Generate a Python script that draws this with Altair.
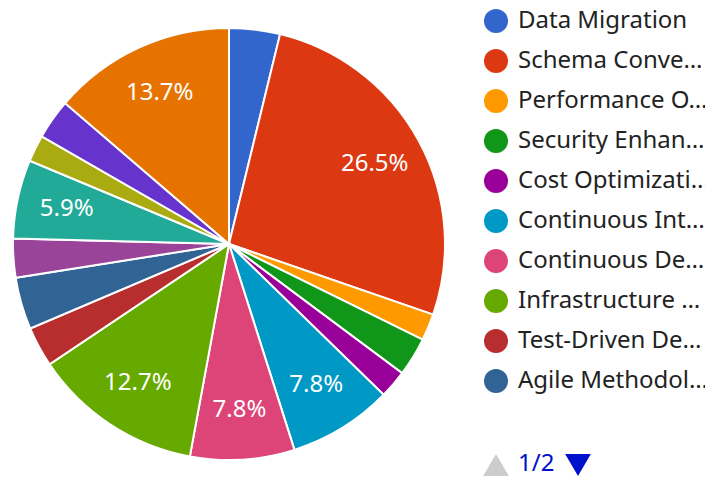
import altair as alt
import pandas as pd

categories = [
    "Data Migration", "Schema Conversion", "Performance Optimization",
    "Security Enhancement", "Cost Optimization", "Continuous Integration",
    "Continuous Deployment", "Infrastructure as Code", "Test-Driven Development",
    "Agile Methodology", "Code Review", "Monitoring and Logging",
    "Documentation", "Team Training", "Cloud Adoption",
]
values = [3.8, 26.5, 2.0, 2.9, 2.1, 7.8, 7.8, 12.7, 3.0, 3.9, 2.9, 5.9, 2.0, 3.0, 13.7]
colors = [
    "#3366cc", "#dc3912", "#ff9900", "#109618", "#990099", "#0099c6",
    "#dd4477", "#66aa00", "#b82e2e", "#316395", "#994499", "#22aa99",
    "#aaaa11", "#6633cc", "#e67300",
]
legend_page = categories[:10]
pager_text = ["1/2"]

total = sum(values)
df = pd.DataFrame({
    "category": categories,
    "value": values,
    "idx": list(range(len(categories))),
})
df["label"] = [f"{v / total * 100:.1f}%" if v / total > 0.05 else "" for v in values]

leg = pd.DataFrame({"category": legend_page, "idx": list(range(len(legend_page)))})

color_scale = alt.Scale(domain=categories, range=colors)

CX, CY, R = 221, 236, 216
FS = 24

base = alt.Chart(df).encode(
    theta=alt.Theta("value:Q", stack=True),
    order=alt.Order("idx:Q"),
    color=alt.Color("category:N", scale=color_scale, legend=None),
)

arcs = base.mark_arc(radius=R, stroke="white", strokeWidth=2).encode(
    x=alt.value(CX), y=alt.value(CY)
)

labels = base.mark_text(
    radius=166, font="Noto Sans", fontSize=FS, color="white"
).encode(
    x=alt.value(CX), y=alt.value(CY), text="label:N",
    color=alt.value("white"),
)

yscale = alt.Scale(domain=legend_page, range=[13, 373], type="point", padding=0)

leg_sym = alt.Chart(leg).mark_point(filled=True, shape="circle", size=576, opacity=1).encode(
    x=alt.value(488),
    y=alt.Y("category:N", scale=yscale, axis=None),
    color=alt.Color("category:N", scale=color_scale, legend=None),
)

leg_txt = alt.Chart(leg).mark_text(
    align="left", baseline="middle", font="Noto Sans", fontSize=FS,
    color="#222222", limit=193,
).encode(
    x=alt.value(510),
    y=alt.Y("category:N", scale=yscale, axis=None),
    text="category:N",
)

pager = pd.DataFrame({"t": pager_text})
pg_up = alt.Chart(pager).mark_point(shape="triangle-up", filled=True, size=660, color="#cccccc", opacity=1).encode(
    x=alt.value(488), y=alt.value(457)
)
pg_txt = alt.Chart(pager).mark_text(
    align="left", baseline="middle", font="Noto Sans", fontSize=FS, color="#0011cc"
).encode(x=alt.value(510), y=alt.value(456), text="t:N")
pg_dn = alt.Chart(pager).mark_point(shape="triangle-down", filled=True, size=660, color="#0011cc", opacity=1).encode(
    x=alt.value(570), y=alt.value(457)
)

chart = alt.layer(arcs, labels, leg_sym, leg_txt, pg_up, pg_txt, pg_dn).resolve_scale(
    y="independent"
).properties(
    width=697, height=469, padding=0, autosize=alt.AutoSizeParams(type="none")
).configure_view(stroke=None)

chart.save("out.html", embed_options={"renderer": "svg", "actions": False})
